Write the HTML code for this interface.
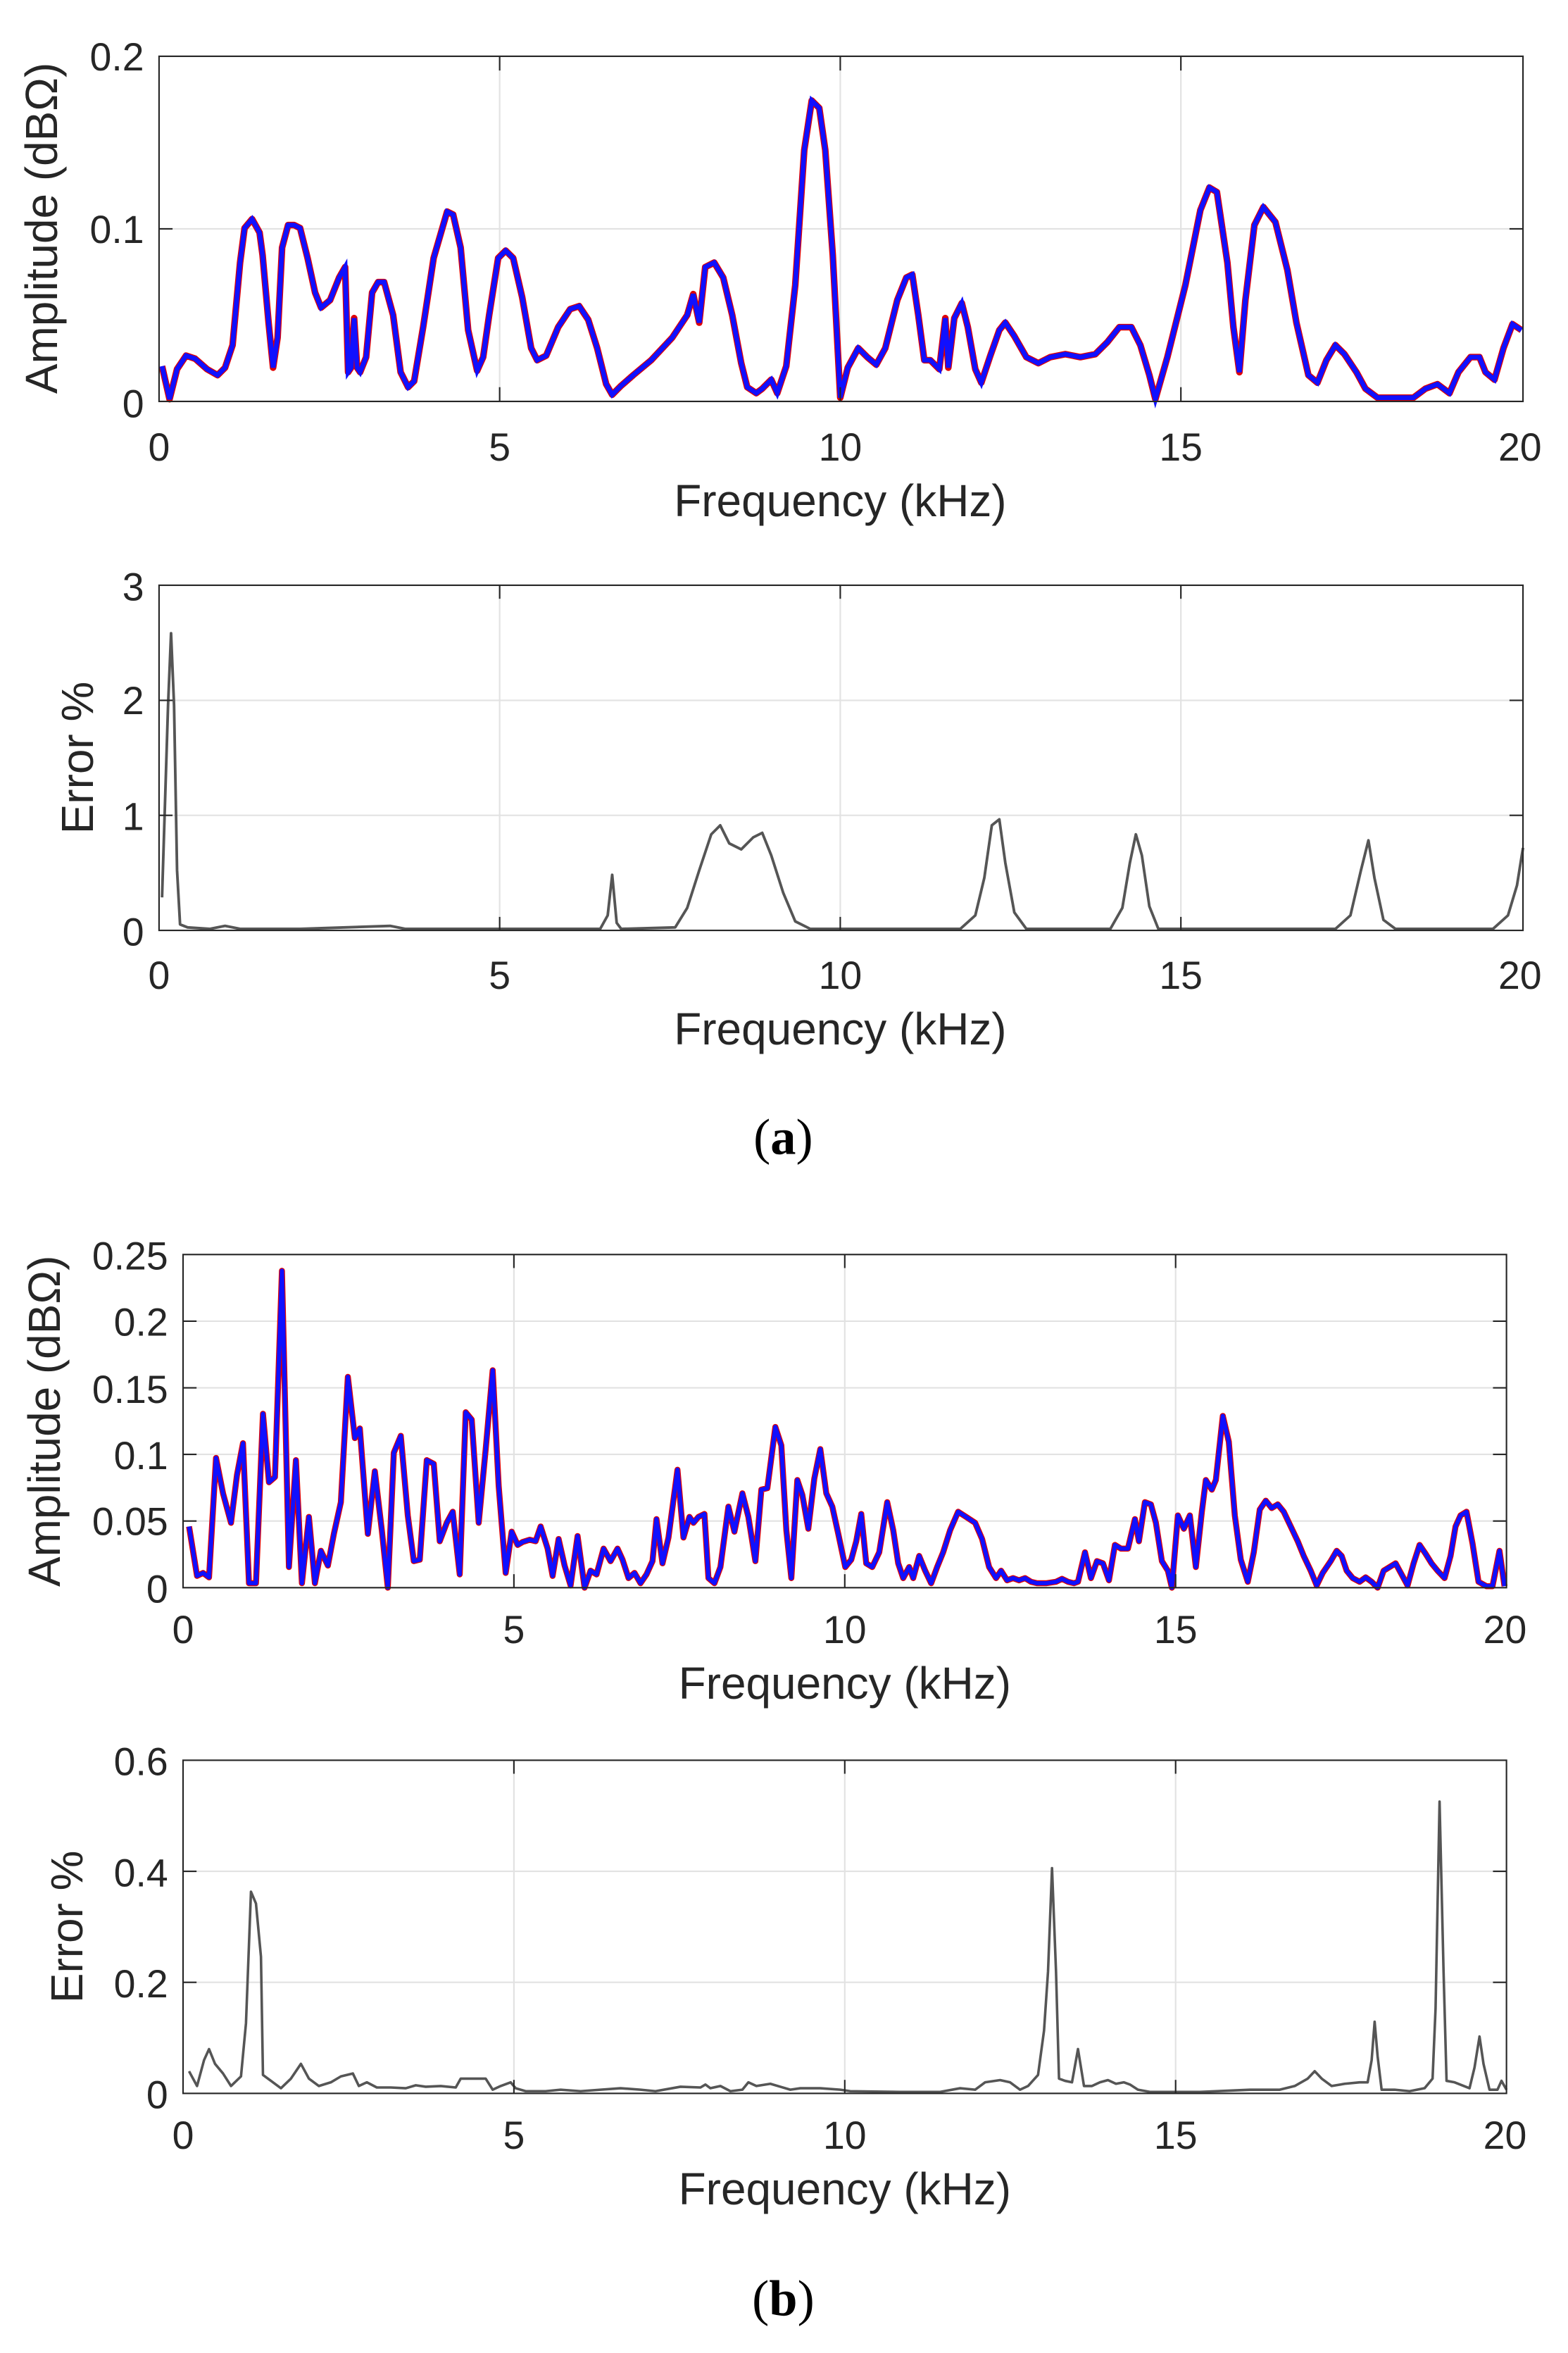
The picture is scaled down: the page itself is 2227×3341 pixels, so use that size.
<!DOCTYPE html>
<html><head><meta charset="utf-8"><style>html,body{margin:0;padding:0;background:#fff}svg{display:block}</style></head>
<body>
<svg xmlns="http://www.w3.org/2000/svg" width="2227" height="3341" viewBox="0 0 1045 1568" preserveAspectRatio="none" font-family="Liberation Sans, Arial, sans-serif" fill="#262626">
<rect width="1045" height="1568" fill="#fff"/>
<!-- PANEL 1 -->
<g stroke="#e2e2e2" stroke-width="1">
<line x1="333" y1="37.5" x2="333" y2="267.5"/><line x1="560" y1="37.5" x2="560" y2="267.5"/><line x1="787" y1="37.5" x2="787" y2="267.5"/>
<line x1="106" y1="152.5" x2="1015" y2="152.5"/>
</g>
<g stroke="#e00000" stroke-width="4.4" fill="none" stroke-linejoin="round">
<polyline id="p1" points="108,244 113,266 118,246 124,237 130,239 138,246 145,250 150,245 155,230 160,175 163,152 168,146 173,155 175,170 179,215 182,245 185,225 188,165 192,150 196,150 200,152 205,172 210,195 214,205 220,200 226,185 230,178 232,248 234,245 236,212 238,245 240,248 244,238 248,195 252,188 256,188 262,210 267,248 272,258 276,254 282,218 289,172 298,141 302,143 307,165 312,220 318,247 322,238 326,210 332,172 337,167 342,172 348,198 354,232 358,240 364,237 372,218 380,206 386,204 392,213 398,232 404,256 408,263 414,257 422,250 434,240 448,225 458,210 462,196 466,215 470,178 476,175 482,185 488,210 494,242 498,258 504,262 508,259 514,253 518,262 524,244 530,190 536,100 541,67 546,72 550,100 555,170 560,265 565,245 572,232 578,238 584,243 590,232 598,200 604,185 608,183 612,210 616,240 620,240 626,246 630,212 632,245 636,212 641,202 645,218 650,246 654,255 660,237 666,220 670,215 676,224 684,238 692,242 700,238 710,236 720,238 730,236 738,228 746,218 754,218 760,230 766,250 770,266 778,238 790,190 800,140 806,125 811,128 818,175 822,218 826,248 830,200 836,150 842,138 850,148 858,180 864,215 872,250 878,255 884,240 890,230 896,236 904,248 910,259 918,265 930,265 942,265 950,259 958,256 966,262 972,248 980,238 986,238 990,248 996,253 1002,232 1008,216 1014,220"/>
</g>
<use href="#p1" stroke="#1010ff" stroke-width="3.2" fill="none"/>
<rect x="106" y="37.5" width="909" height="230" fill="none" stroke="#262626" stroke-width="1"/>
<g stroke="#262626" stroke-width="1">
<line x1="333" y1="267.5" x2="333" y2="258"/><line x1="560" y1="267.5" x2="560" y2="258"/><line x1="787" y1="267.5" x2="787" y2="258"/>
<line x1="333" y1="37.5" x2="333" y2="47"/><line x1="560" y1="37.5" x2="560" y2="47"/><line x1="787" y1="37.5" x2="787" y2="47"/>
<line x1="106" y1="152.5" x2="115" y2="152.5"/><line x1="1015" y1="152.5" x2="1006" y2="152.5"/>
</g>
<g font-size="26" text-anchor="end">
<text x="96" y="47">0.2</text><text x="96" y="162">0.1</text><text x="96" y="278">0</text>
</g>
<g font-size="26" text-anchor="middle">
<text x="106" y="307">0</text><text x="333" y="307">5</text><text x="560" y="307">10</text><text x="787" y="307">15</text><text x="1013" y="307">20</text>
<text x="560" y="344" font-size="30">Frequency (kHz)</text>
<text transform="translate(38,152) rotate(-90)" font-size="30">Amplitude (dBΩ)</text>
</g>
<!-- PANEL 2 -->
<g stroke="#e2e2e2" stroke-width="1">
<line x1="333" y1="390" x2="333" y2="620"/><line x1="560" y1="390" x2="560" y2="620"/><line x1="787" y1="390" x2="787" y2="620"/>
<line x1="106" y1="466.7" x2="1015" y2="466.7"/><line x1="106" y1="543.3" x2="1015" y2="543.3"/>
</g>
<polyline fill="none" stroke="#555" stroke-width="1.8" stroke-linejoin="round" points="108,598 112,470 114,422 116,470 118,580 120,616 125,618 140,619 150,617 160,619 200,619 260,617 270,619 400,619 405,610 408,583 411,615 414,619 450,618 458,605 466,580 474,556 480,550 486,562 494,566 502,558 508,555 514,570 522,595 530,614 540,619 640,619 650,610 656,585 661,550 666,546 670,575 676,608 684,619 740,619 748,605 753,575 757,556 761,570 766,604 772,619 890,619 900,610 907,580 912,560 916,585 922,613 930,619 995,619 1005,610 1011,590 1015,565"/>
<rect x="106" y="390" width="909" height="230" fill="none" stroke="#262626" stroke-width="1"/>
<g stroke="#262626" stroke-width="1">
<line x1="333" y1="620" x2="333" y2="611"/><line x1="560" y1="620" x2="560" y2="611"/><line x1="787" y1="620" x2="787" y2="611"/>
<line x1="333" y1="390" x2="333" y2="399"/><line x1="560" y1="390" x2="560" y2="399"/><line x1="787" y1="390" x2="787" y2="399"/>
<line x1="106" y1="466.7" x2="115" y2="466.7"/><line x1="106" y1="543.3" x2="115" y2="543.3"/>
<line x1="1015" y1="466.7" x2="1006" y2="466.7"/><line x1="1015" y1="543.3" x2="1006" y2="543.3"/>
</g>
<g font-size="26" text-anchor="end">
<text x="96" y="400">3</text><text x="96" y="476">2</text><text x="96" y="553">1</text><text x="96" y="630">0</text>
</g>
<g font-size="26" text-anchor="middle">
<text x="106" y="659">0</text><text x="333" y="659">5</text><text x="560" y="659">10</text><text x="787" y="659">15</text><text x="1013" y="659">20</text>
<text x="560" y="696" font-size="30">Frequency (kHz)</text>
<text transform="translate(62,505) rotate(-90)" font-size="30">Error %</text>
</g>
<text x="522" y="769" font-family="Liberation Serif, serif" font-size="34" text-anchor="middle" fill="#000">(<tspan font-weight="bold">a</tspan>)</text>

<!-- PANEL 3 -->
<g stroke="#e2e2e2" stroke-width="1">
<line x1="342.5" y1="836" x2="342.5" y2="1058"/><line x1="563" y1="836" x2="563" y2="1058"/><line x1="783.5" y1="836" x2="783.5" y2="1058"/>
<line x1="122" y1="880.4" x2="1004" y2="880.4"/><line x1="122" y1="924.8" x2="1004" y2="924.8"/><line x1="122" y1="969.2" x2="1004" y2="969.2"/><line x1="122" y1="1013.6" x2="1004" y2="1013.6"/>
</g>
<g transform="translate(0.85,798.67) scale(0.66566,0.49115)" fill="none" stroke-linejoin="round">
<g stroke="#e00000" stroke-width="8.5">
<polyline id="p3" vector-effect="non-scaling-stroke" points="188,445 196,512 202,508 208,514 215,352 222,400 230,440 236,375 242,332 248,522 255,522 262,292 268,385 274,378 281,98 288,500 295,355 301,522 308,432 314,522 320,478 327,498 333,455 340,412 347,242 354,325 359,312 367,455 374,370 381,450 387,528 393,345 400,322 407,430 413,492 419,490 426,355 433,360 439,465 446,440 452,425 459,510 465,290 471,300 478,440 485,340 492,233 498,390 505,508 511,452 517,470 522,466 529,463 535,465 540,445 547,475 552,512 558,462 564,498 570,525 577,458 584,528 590,505 596,510 603,475 610,492 617,475 622,490 628,515 634,508 640,522 646,510 652,492 656,435 662,495 668,460 677,368 683,460 689,432 693,440 698,432 704,428 708,515 714,522 720,500 728,418 734,452 742,400 748,432 755,492 761,395 767,393 775,310 781,335 786,450 791,515 797,382 802,402 808,448 814,380 820,340 826,400 832,418 838,455 845,500 851,490 856,465 861,428 866,495 872,500 879,480 887,412 893,450 898,495 903,515 909,500 913,515 919,485 925,505 931,522 937,500 943,480 950,450 958,425 966,432 975,440 982,462 989,500 996,515 1001,505 1007,518 1013,515 1019,518 1025,515 1031,520 1037,522 1046,522 1056,520 1062,516 1068,520 1074,522 1078,520 1085,480 1091,515 1097,492 1103,495 1109,518 1115,470 1121,475 1128,475 1135,435 1139,465 1145,412 1151,415 1156,440 1162,492 1168,505 1172,528 1178,430 1184,448 1190,430 1196,500 1202,425 1206,382 1212,395 1216,382 1223,295 1229,330 1235,430 1241,490 1248,520 1254,480 1260,422 1266,410 1272,420 1278,415 1284,425 1291,445 1298,465 1304,485 1311,505 1317,525 1323,508 1331,492 1337,478 1342,485 1347,505 1353,515 1360,520 1366,514 1372,520 1378,528 1384,505 1390,500 1396,495 1402,510 1408,525 1414,495 1420,470 1426,482 1432,495 1438,505 1445,515 1451,485 1456,445 1461,430 1467,425 1473,468 1479,520 1487,526 1493,526 1500,478 1505,526"/>
</g>
<g stroke="#1010ff" stroke-width="6"><use href="#p3"/></g>
</g>
<rect x="122" y="836" width="882" height="222" fill="none" stroke="#262626" stroke-width="1"/>
<g stroke="#262626" stroke-width="1">
<line x1="342.5" y1="1058" x2="342.5" y2="1049"/><line x1="563" y1="1058" x2="563" y2="1049"/><line x1="783.5" y1="1058" x2="783.5" y2="1049"/>
<line x1="342.5" y1="836" x2="342.5" y2="845"/><line x1="563" y1="836" x2="563" y2="845"/><line x1="783.5" y1="836" x2="783.5" y2="845"/>
<line x1="122" y1="880.4" x2="131" y2="880.4"/><line x1="122" y1="924.8" x2="131" y2="924.8"/><line x1="122" y1="969.2" x2="131" y2="969.2"/><line x1="122" y1="1013.6" x2="131" y2="1013.6"/>
<line x1="1004" y1="880.4" x2="995" y2="880.4"/><line x1="1004" y1="924.8" x2="995" y2="924.8"/><line x1="1004" y1="969.2" x2="995" y2="969.2"/><line x1="1004" y1="1013.6" x2="995" y2="1013.6"/>
</g>
<g font-size="26" text-anchor="end">
<text x="112" y="846">0.25</text><text x="112" y="890">0.2</text><text x="112" y="935">0.15</text><text x="112" y="979">0.1</text><text x="112" y="1023">0.05</text><text x="112" y="1068">0</text>
</g>
<g font-size="26" text-anchor="middle">
<text x="122" y="1095">0</text><text x="342.5" y="1095">5</text><text x="563" y="1095">10</text><text x="783.5" y="1095">15</text><text x="1003" y="1095">20</text>
<text x="563" y="1132" font-size="30">Frequency (kHz)</text>
<text transform="translate(40,947) rotate(-90)" font-size="30">Amplitude (dBΩ)</text>
</g>

<!-- PANEL 4 -->
<g stroke="#e2e2e2" stroke-width="1">
<line x1="342.5" y1="1173" x2="342.5" y2="1395"/><line x1="563" y1="1173" x2="563" y2="1395"/><line x1="783.5" y1="1173" x2="783.5" y2="1395"/>
<line x1="122" y1="1247" x2="1004" y2="1247"/><line x1="122" y1="1321" x2="1004" y2="1321"/>
</g>
<g transform="translate(0.85,796.93) scale(0.66566,0.49224)">
<polyline fill="none" stroke="#555" stroke-width="3.6" vector-effect="non-scaling-stroke" stroke-linejoin="round" points="188,1185 196,1205 203,1170 208,1155 214,1175 222,1188 230,1205 240,1192 245,1120 250,942 255,958 260,1030 262,1190 270,1198 280,1208 290,1195 300,1175 308,1195 318,1205 330,1200 340,1192 352,1188 358,1205 366,1200 376,1207 390,1207 405,1208 415,1204 425,1206 440,1205 455,1207 460,1195 470,1195 485,1195 492,1210 500,1205 510,1200 515,1208 525,1212 545,1212 560,1210 580,1212 600,1210 620,1208 640,1210 655,1212 680,1206 700,1207 705,1203 710,1208 720,1205 730,1212 742,1210 748,1200 756,1205 770,1202 780,1206 790,1210 800,1208 820,1208 840,1210 850,1212 900,1213 940,1213 960,1208 975,1210 985,1200 1000,1197 1010,1200 1020,1210 1028,1205 1038,1190 1044,1130 1048,1050 1052,910 1056,1050 1059,1195 1065,1198 1072,1200 1078,1155 1084,1205 1092,1205 1100,1200 1108,1197 1116,1202 1124,1200 1130,1203 1138,1210 1150,1213 1200,1213 1250,1210 1280,1210 1295,1205 1308,1195 1315,1185 1322,1195 1332,1205 1345,1202 1360,1200 1368,1200 1372,1170 1375,1118 1378,1165 1382,1210 1395,1210 1410,1212 1425,1208 1433,1195 1436,1100 1440,820 1444,1050 1447,1198 1455,1200 1470,1208 1475,1180 1480,1138 1484,1175 1490,1210 1498,1210 1502,1198 1507,1210"/>
</g>
<rect x="122" y="1173" width="882" height="222" fill="none" stroke="#262626" stroke-width="1"/>
<g stroke="#262626" stroke-width="1">
<line x1="342.5" y1="1395" x2="342.5" y2="1386"/><line x1="563" y1="1395" x2="563" y2="1386"/><line x1="783.5" y1="1395" x2="783.5" y2="1386"/>
<line x1="342.5" y1="1173" x2="342.5" y2="1182"/><line x1="563" y1="1173" x2="563" y2="1182"/><line x1="783.5" y1="1173" x2="783.5" y2="1182"/>
<line x1="122" y1="1247" x2="131" y2="1247"/><line x1="122" y1="1321" x2="131" y2="1321"/>
<line x1="1004" y1="1247" x2="995" y2="1247"/><line x1="1004" y1="1321" x2="995" y2="1321"/>
</g>
<g font-size="26" text-anchor="end">
<text x="112" y="1183">0.6</text><text x="112" y="1257">0.4</text><text x="112" y="1331">0.2</text><text x="112" y="1405">0</text>
</g>
<g font-size="26" text-anchor="middle">
<text x="122" y="1432">0</text><text x="342.5" y="1432">5</text><text x="563" y="1432">10</text><text x="783.5" y="1432">15</text><text x="1003" y="1432">20</text>
<text x="563" y="1469" font-size="30">Frequency (kHz)</text>
<text transform="translate(55,1284) rotate(-90)" font-size="30">Error %</text>
</g>
<text x="522" y="1543" font-family="Liberation Serif, serif" font-size="34" text-anchor="middle" fill="#000">(<tspan font-weight="bold">b</tspan>)</text>
</svg>
</body></html>
